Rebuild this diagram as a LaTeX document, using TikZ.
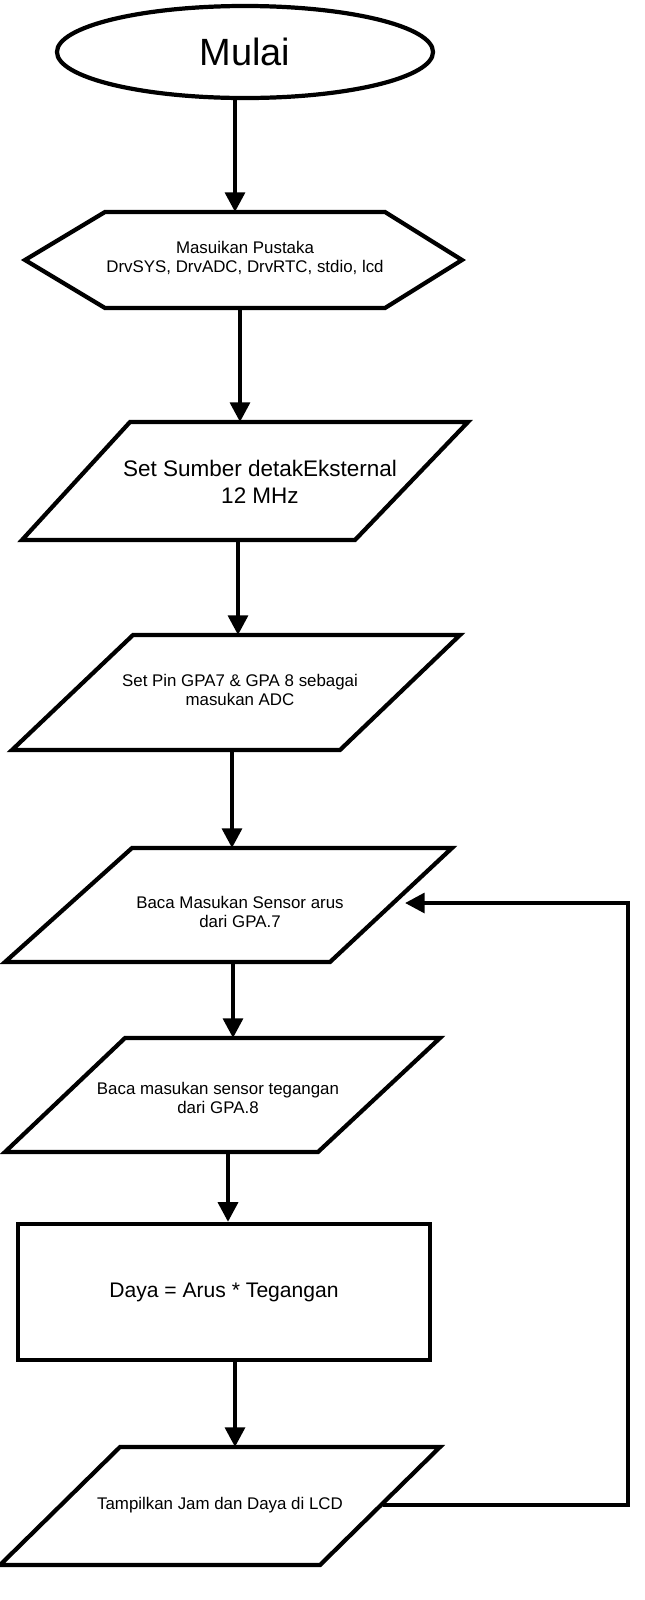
\documentclass[tikz,border=0pt]{standalone}
\usepackage{fontspec}
\setmainfont{Liberation Sans}
\usetikzlibrary{shapes.geometric,arrows.meta,positioning}
\tikzset{
	box/.style   = {draw=black, line width=3pt},
	txt/.style   = {align=center, font=\fontsize{12}{14}\selectfont},
	curve/.style = {line width=3pt, -{Triangle[length=14pt,width=14pt]}},
}
\begin{document}
\begin{tikzpicture}[x=0.025cm, y=-0.025cm]
	\useasboundingbox (0,0) rectangle (645,1600);
	% start
	\node[box, ellipse, inner sep=0pt,
		minimum width=9.4cm, minimum height=2.3cm,
		font=\fontsize{27}{30}\selectfont] (mulai) at (245,52) {Mulai};
	% libraries
	\draw[box] (25,260) -- (105,212) -- (385,212) -- (462,260) -- (385,308) -- (105,308) -- cycle;
	\node[txt] (lib) at (245,258) {Masuikan Pustaka\\DrvSYS, DrvADC, DrvRTC, stdio, lcd};
	\coordinate (libt) at (235,212); \coordinate (libb) at (240,308);
	% clock
	\draw[box] (130,422) -- (468,422) -- (355,540) -- (22,540) -- cycle;
	\node[txt, font=\fontsize{16}{19}\selectfont] (clk) at (260,482) {Set Sumber detakEksternal\\12 MHz};
	\coordinate (clkt) at (240,422); \coordinate (clkb) at (238,540);
	% pins
	\draw[box] (133,635) -- (460,635) -- (340,750) -- (12,750) -- cycle;
	\node[txt] (pin) at (240,690) {Set Pin GPA7 \& GPA 8 sebagai\\masukan ADC};
	\coordinate (pint) at (238,635); \coordinate (pinb) at (232,750);
	% current
	\draw[box] (132,848) -- (452,848) -- (330,962) -- (5,962) -- cycle;
	\node[txt] (arus) at (240,912) {Baca Masukan Sensor arus\\dari GPA.7};
	\coordinate (arust) at (232,848); \coordinate (arusb) at (233,962);
	\coordinate (arusr) at (405,903);
	% voltage
	\draw[box] (125,1038) -- (440,1038) -- (318,1152) -- (5,1152) -- cycle;
	\node[txt] (tegangan) at (218,1098) {Baca masukan sensor tegangan\\dari GPA.8};
	\coordinate (tegt) at (233,1038); \coordinate (tegb) at (228,1152);
	% power
	\node[box, rectangle, minimum width=10.3cm, minimum height=3.4cm,
		font=\fontsize{15}{18}\selectfont] (daya) at (224,1292) {Daya = Arus * Tegangan};
	% display
	\draw[box] (120,1447) -- (440,1447) -- (320,1565) -- (0,1565) -- cycle;
	\node[txt] (lcd) at (220,1505) {Tampilkan Jam dan Daya di LCD};
	\coordinate (lcdt) at (235,1447); \coordinate (lcdr) at (383,1505);
	\coordinate (back1) at (628,1505); \coordinate (back2) at (628,903);
	% arrows
	\draw[curve] (mulai.south -| libt) -- (libt);
	\draw[curve] (libb) -- (libb |- clkt);
	\draw[curve] (clkb) -- (clkb |- pint);
	\draw[curve] (pinb) -- (pinb |- arust);
	\draw[curve] (arusb) -- (arusb |- tegt);
	\draw[curve] (tegb) -- (tegb |- daya.north);
	\draw[curve] (daya.south -| lcdt) -- (lcdt);
	\draw[curve] (lcdr) -- (back1) -- (back2) -- (arusr);
\end{tikzpicture}
\end{document}
